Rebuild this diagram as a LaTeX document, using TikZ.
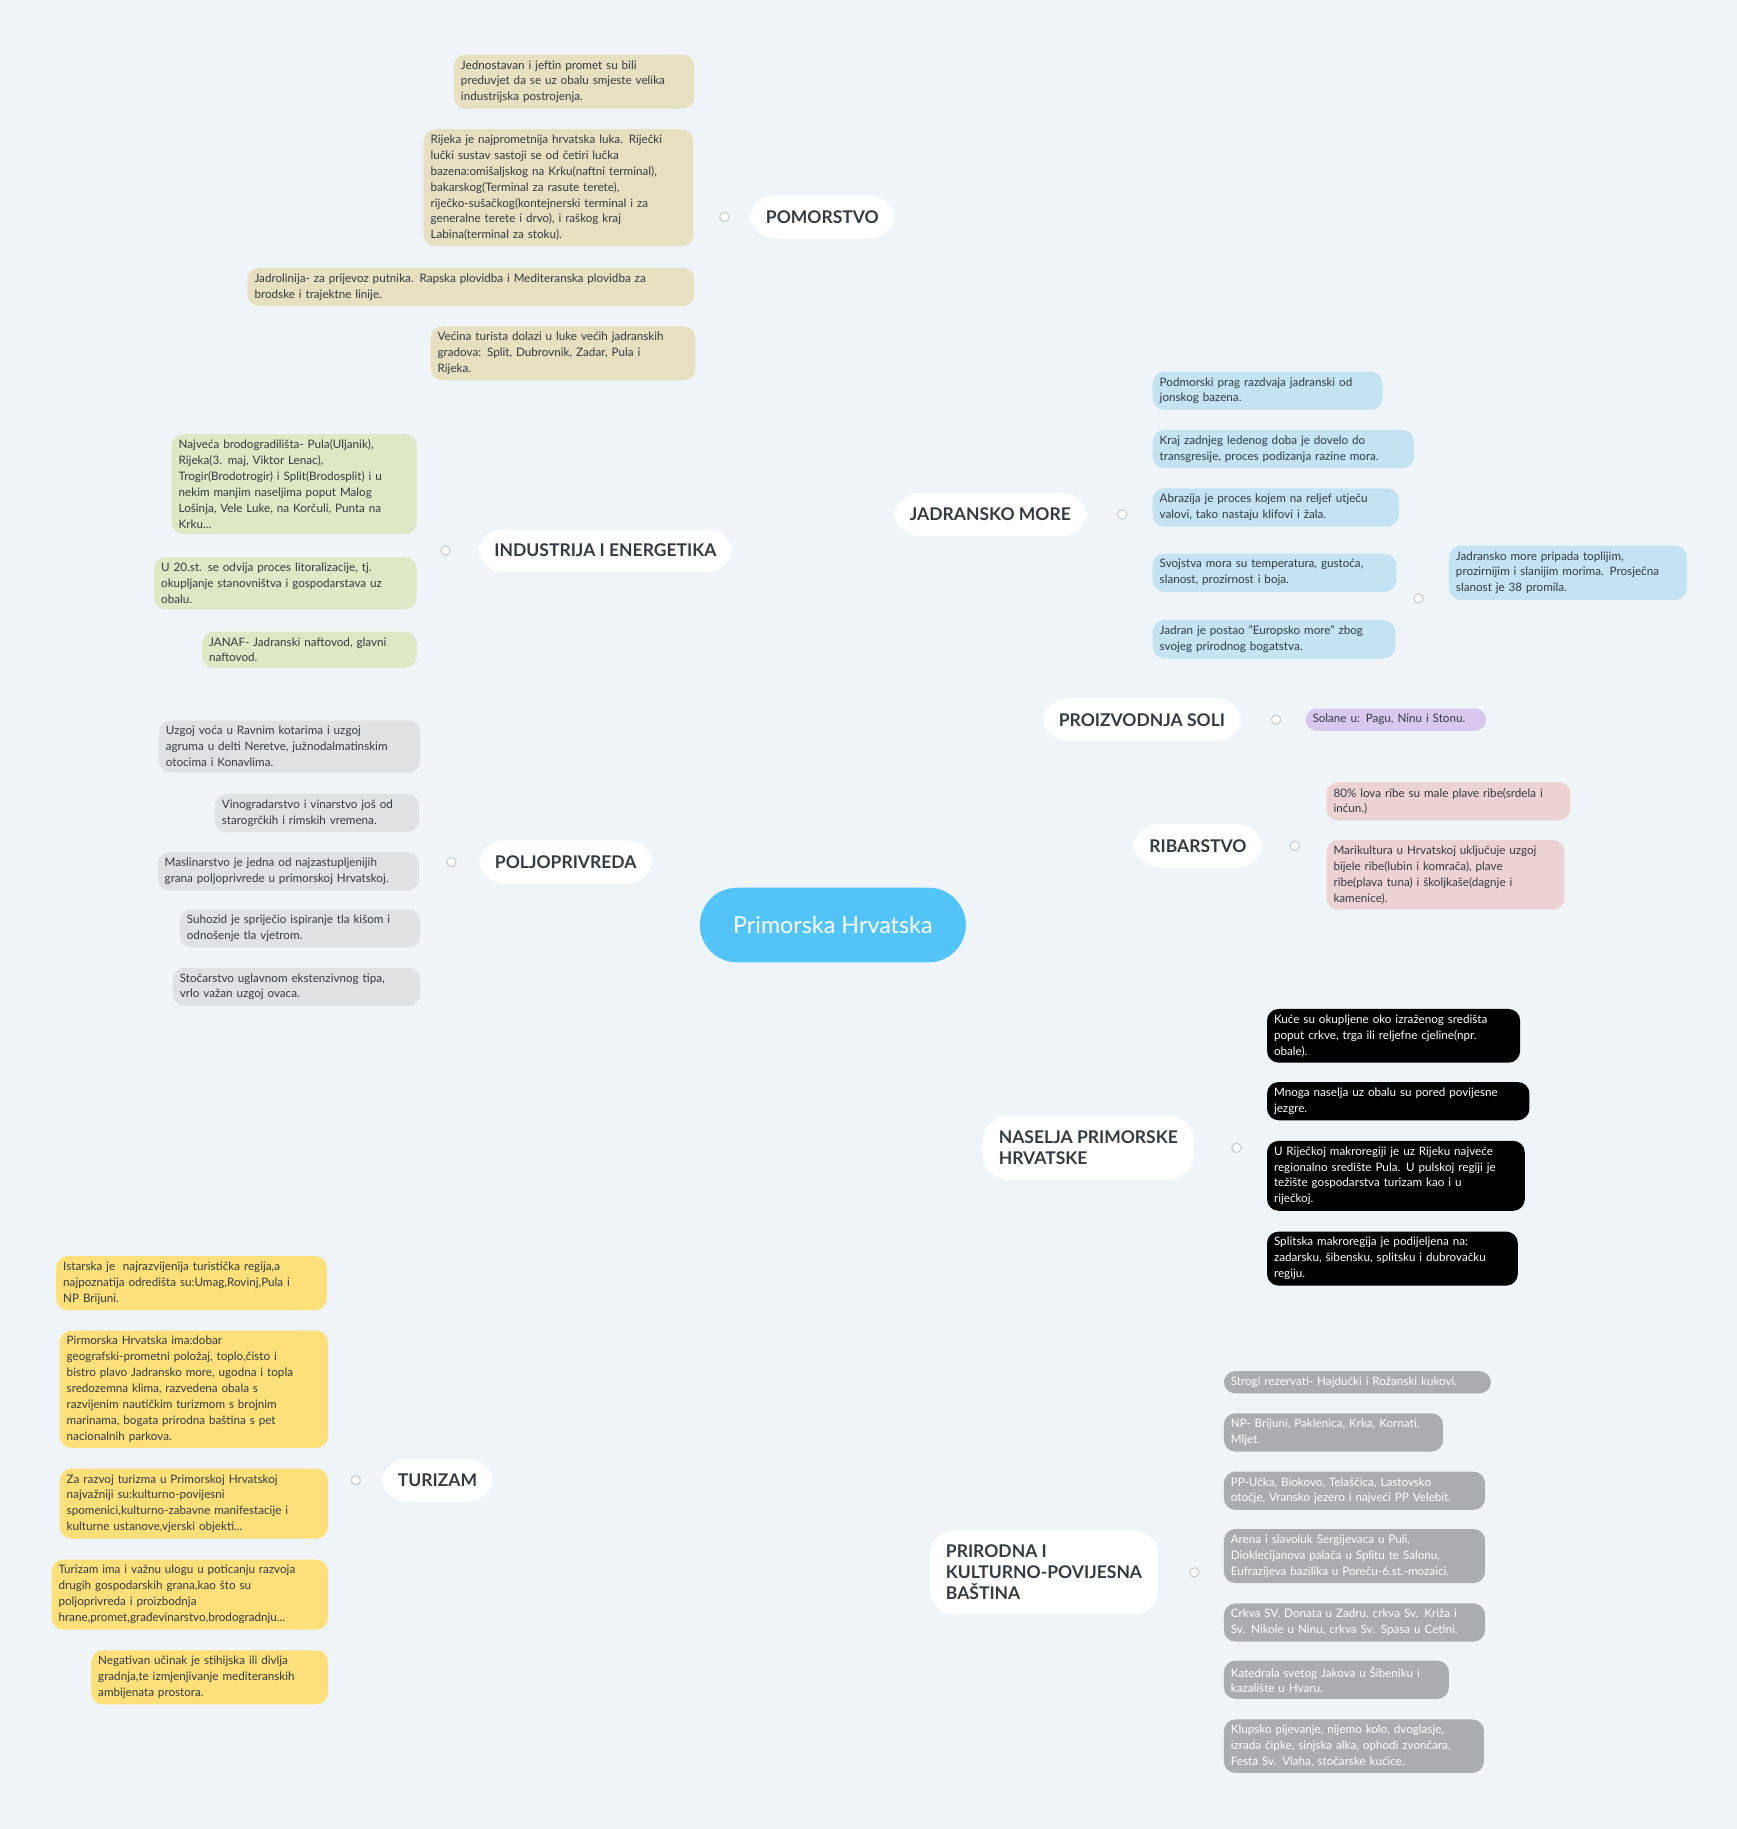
\documentclass[tikz,border=0pt]{standalone}
\usepackage{fontspec}
\setmainfont{Lato}
\usetikzlibrary{backgrounds}
\definecolor{bg}{HTML}{EEF4F7}
\definecolor{ln}{HTML}{C9CED2}
\definecolor{tx}{HTML}{333B42}
\definecolor{cmain}{HTML}{52C4F7}
\definecolor{cbei}{HTML}{E6DFC0}
\definecolor{cblu}{HTML}{C3E2F2}
\definecolor{cgrn}{HTML}{DDE8C4}
\definecolor{cpur}{HTML}{D9C8EE}
\definecolor{cpnk}{HTML}{ECD2D2}
\definecolor{cgry}{HTML}{DFE2E5}
\definecolor{cyel}{HTML}{FDE07A}
\definecolor{cdgr}{HTML}{A9ADB1}
\tikzset{
 conn/.style={draw=ln,line width=1.1pt},
 br/.style={fill=white,rounded corners=22pt,font=\fontsize{15}{18}\selectfont\bfseries,text=tx,inner xsep=14pt,inner ysep=13pt,align=left},
 leaf/.style={rounded corners=10pt,font=\fontsize{10}{13.6}\selectfont,text=tx,inner xsep=6pt,inner ysep=5pt,align=left,anchor=west},
 dot/.style={circle,draw=ln,fill=white,line width=1pt,inner sep=0pt,minimum size=8pt},
}
\newcommand\leaf[6]{\node[leaf,fill=#5,text width=#4pt-12pt] (#1) at (#2,#3) {#6};}
\newcommand\rlnk[2]{\draw[conn] (#1) .. controls +(8,0) and +(-14,0) .. (#2.south west) -- (#2.south east);}
\newcommand\llnk[2]{\draw[conn] (#1) .. controls +(-8,0) and +(14,0) .. (#2.south east) -- (#2.south west);}
\begin{document}
\begin{tikzpicture}[x=1pt,y=-1pt]
\fill[bg] (0,0) rectangle (1489,1568);
\useasboundingbox (0,0) rectangle (1489,1568);
% center & branches
\node[fill=cmain,rounded corners=32pt,minimum width=228pt,minimum height=64pt,text=white,font=\fontsize{20}{24}\selectfont] (c) at (714,793) {Primorska Hrvatska};
\node[br] (P) at (705,186) {POMORSTVO};
\node[br] (J) at (849,441) {JADRANSKO MORE};
\node[br] (I) at (519,472) {INDUSTRIJA I ENERGETIKA};
\node[br] (S) at (979,617) {PROIZVODNJA SOLI};
\node[br] (R) at (1027,725) {RIBARSTVO};
\node[br] (L) at (485,739) {POLJOPRIVREDA};
\node[br] (N) at (933,984) {NASELJA PRIMORSKE\\HRVATSKE};
\node[br] (T) at (375,1269) {TURIZAM};
\node[br] (B) at (895,1348) {PRIRODNA I\\KULTURNO-POVIJESNA\\BAŠTINA};
% leaves
\leaf{p1}{389}{70}{206}{cbei}{Jednostavan i jeftin promet su bili\\preduvjet da se uz obalu smjeste velika\\industrijska postrojenja.}
\leaf{p2}{363}{161}{231}{cbei}{Rijeka je najprometnija hrvatska luka. Riječki\\lučki sustav sastoji se od četiri lučka\\bazena:omišaljskog na Krku(naftni terminal),\\bakarskog(Terminal za rasute terete),\\riječko-sušačkog(kontejnerski terminal i za\\generalne terete i drvo), i raškog kraj\\Labina(terminal za stoku).}
\leaf{p3}{212}{246}{383}{cbei}{Jadrolinija- za prijevoz putnika. Rapska plovidba i Mediteranska plovidba za\\brodske i trajektne linije.}
\leaf{p4}{369}{303}{227}{cbei}{Većina turista dolazi u luke većih jadranskih\\gradova: Split, Dubrovnik, Zadar, Pula i\\Rijeka.}
\leaf{j1}{988}{335}{197}{cblu}{Podmorski prag razdvaja jadranski od\\jonskog bazena.}
\leaf{j2}{988}{385}{224}{cblu}{Kraj zadnjeg ledenog doba je dovelo do\\transgresije, proces podizanja razine mora.}
\leaf{j3}{988}{435}{211}{cblu}{Abrazija je proces kojem na reljef utječu\\valovi, tako nastaju klifovi i žala.}
\leaf{j4}{988}{491}{209}{cblu}{Svojstva mora su temperatura, gustoća,\\slanost, prozirnost i boja.}
\leaf{j5}{988}{548}{208}{cblu}{Jadran je postao "Europsko more" zbog\\svojeg prirodnog bogatstva.}
\leaf{j6}{1242}{491}{204}{cblu}{Jadransko more pripada toplijim,\\prozirnijim i slanijim morima. Prosječna\\slanost je 38 promila.}
\leaf{i1}{147}{415}{210}{cgrn}{Najveća brodogradilišta- Pula(Uljanik),\\Rijeka(3. maj, Viktor Lenac),\\Trogir(Brodotrogir) i Split(Brodosplit) i u\\nekim manjim naseljima poput Malog\\Lošinja, Vele Luke, na Korčuli, Punta na\\Krku...}
\leaf{i2}{132}{500}{225}{cgrn}{U 20.st. se odvija proces litoralizacije, tj.\\okupljanje stanovništva i gospodarstava uz\\obalu.}
\leaf{i3}{173}{557}{184}{cgrn}{JANAF- Jadranski naftovod, glavni\\naftovod.}
\leaf{s1}{1119}{617}{155}{cpur}{Solane u: Pagu, Ninu i Stonu.}
\leaf{r1}{1137}{687}{209}{cpnk}{80\% lova ribe su male plave ribe(srdela i\\inćun.)}
\leaf{r2}{1137}{750}{204}{cpnk}{Marikultura u Hrvatskoj uključuje uzgoj\\bijele ribe(lubin i komrača), plave\\ribe(plava tuna) i školjkaše(dagnje i\\kamenice).}
\leaf{l1}{136}{640}{224}{cgry}{Uzgoj voća u Ravnim kotarima i uzgoj\\agruma u delti Neretve, južnodalmatinskim\\otocima i Konavlima.}
\leaf{l2}{184}{697}{175}{cgry}{Vinogradarstvo i vinarstvo još od\\starogrčkih i rimskih vremena.}
\leaf{l3}{135}{747}{224}{cgry}{Maslinarstvo je jedna od najzastupljenijih\\grana poljoprivrede u primorskoj Hrvatskoj.}
\leaf{l4}{154}{796}{206}{cgry}{Suhozid je spriječio ispiranje tla kišom i\\odnošenje tla vjetrom.}
\leaf{l5}{148}{846}{212}{cgry}{Stočarstvo uglavnom ekstenzivnog tipa,\\vrlo važan uzgoj ovaca.}
\tikzset{leaf/.append style={text=white}}
\leaf{n1}{1086}{888}{217}{black}{Kuće su okupljene oko izraženog središta\\poput crkve, trga ili reljefne cjeline(npr.\\obale).}
\leaf{n2}{1086}{944}{225}{black}{Mnoga naselja uz obalu su pored povijesne\\jezgre.}
\leaf{n3}{1086}{1008}{221}{black}{U Riječkoj makroregiji je uz Rijeku najveće\\regionalno središte Pula. U pulskoj regiji je\\težište gospodarstva turizam kao i u\\riječkoj.}
\leaf{n4}{1086}{1079}{215}{black}{Splitska makroregija je podijeljena na:\\zadarsku, šibensku, splitsku i dubrovačku\\regiju.}
\leaf{b1}{1049}{1185}{229}{cdgr}{Strogi rezervati- Hajdučki i Rožanski kukovi.}
\leaf{b2}{1049}{1228}{188}{cdgr}{NP- Brijuni, Paklenica, Krka, Kornati,\\Mljet.}
\leaf{b3}{1049}{1278}{224}{cdgr}{PP-Učka, Biokovo, Telaščica, Lastovsko\\otočje, Vransko jezero i najveći PP Velebit.}
\leaf{b4}{1049}{1334}{224}{cdgr}{Arena i slavoluk Sergijevaca u Puli,\\Dioklecijanova palača u Splitu te Salonu,\\Eufrazijeva bazilika u Poreču-6.st.-mozaici.}
\leaf{b5}{1049}{1391}{224}{cdgr}{Crkva SV. Donata u Zadru, crkva Sv. Križa i\\Sv. Nikole u Ninu, crkva Sv. Spasa u Cetini.}
\leaf{b6}{1049}{1440}{193}{cdgr}{Katedrala svetog Jakova u Šibeniku i\\kazalište u Hvaru.}
\leaf{b7}{1049}{1497}{223}{cdgr}{Klupsko pijevanje, nijemo kolo, dvoglasje,\\izrada čipke, sinjska alka, ophodi zvončara,\\Festa Sv. Vlaha, stočarske kućice.}
\tikzset{leaf/.append style={text=tx}}
\leaf{t1}{48}{1100}{232}{cyel}{Istarska je~ najrazvijenija turistička regija,a\\najpoznatija odredišta su:Umag,Rovinj,Pula i\\NP Brijuni.}
\leaf{t2}{51}{1191}{230}{cyel}{Pirmorska Hrvatska ima:dobar\\geografski-prometni položaj, toplo,čisto i\\bistro plavo Jadransko more, ugodna i topla\\sredozemna klima, razvedena obala s\\razvijenim nautičkim turizmom s brojnim\\marinama, bogata prirodna baština s pet\\nacionalnih parkova.}
\leaf{t3}{51}{1289}{230}{cyel}{Za razvoj turizma u Primorskoj Hrvatskoj\\najvažniji su:kulturno-povijesni\\spomenici,kulturno-zabavne manifestacije i\\kulturne ustanove,vjerski objekti...}
\leaf{t4}{44}{1367}{237}{cyel}{Turizam ima i važnu ulogu u poticanju razvoja\\drugih gospodarskih grana,kao što su\\poljoprivreda i proizbodnja\\hrane,promet,građevinarstvo,brodogradnju...}
\leaf{t5}{78}{1438}{203}{cyel}{Negativan učinak je stihijska ili divlja\\gradnja,te izmjenjivanje mediteranskih\\ambijenata prostora.}
% dots
\node[dot] (dP) at (621,186) {};
\node[dot] (dJ) at (962,441) {};
\node[dot] (dJ4) at (1216,513) {};
\node[dot] (dI) at (382,472) {};
\node[dot] (dS) at (1094,617) {};
\node[dot] (dR) at (1110,725) {};
\node[dot] (dL) at (387,739) {};
\node[dot] (dN) at (1060,984) {};
\node[dot] (dT) at (305,1269) {};
\node[dot] (dB) at (1024,1348) {};
\begin{scope}[on background layer]
\coordinate (c0) at (714,793);
\draw[conn] (c0) .. controls (700,500) and (670,190) .. (P.west);
\draw[conn] (c0) .. controls (730,520) and (740,441) .. (J.west);
\draw[conn] (c0) .. controls (700,550) and (680,472) .. (I.east);
\draw[conn] (c0) .. controls (740,650) and (820,617) .. (S.west);
\draw[conn] (c0) .. controls (790,740) and (880,725) .. (R.west);
\draw[conn] (c0) .. controls (660,760) and (620,739) .. (L.east);
\draw[conn] (c0) .. controls (730,900) and (780,984) .. (N.west);
\draw[conn] (c0) .. controls (700,1269) and (560,1269) .. (T.east);
\draw[conn] (c0) .. controls (730,1100) and (760,1348) .. (B.west);
\draw[conn] (P.west) -- (dP); \draw[conn] (J.east) -- (dJ); \draw[conn] (I.west) -- (dI);
\draw[conn] (S.east) -- (dS); \draw[conn] (R.east) -- (dR); \draw[conn] (L.west) -- (dL);
\draw[conn] (N.east) -- (dN); \draw[conn] (T.west) -- (dT); \draw[conn] (B.east) -- (dB);
\foreach \x in {p1,p2,p3,p4} {\llnk{dP}{\x}}
\foreach \x in {j1,j2,j3,j4,j5} {\rlnk{dJ}{\x}}
\draw[conn] (j4.south east) -- (dJ4); \rlnk{dJ4}{j6}
\foreach \x in {i1,i2,i3} {\llnk{dI}{\x}}
\rlnk{dS}{s1}
\foreach \x in {r1,r2} {\rlnk{dR}{\x}}
\foreach \x in {l1,l2,l3,l4,l5} {\llnk{dL}{\x}}
\foreach \x in {n1,n2,n3,n4} {\rlnk{dN}{\x}}
\foreach \x in {t1,t2,t3,t4,t5} {\llnk{dT}{\x}}
\foreach \x in {b1,b2,b3,b4,b5,b6,b7} {\rlnk{dB}{\x}}
\end{scope}
\end{tikzpicture}
\end{document}
